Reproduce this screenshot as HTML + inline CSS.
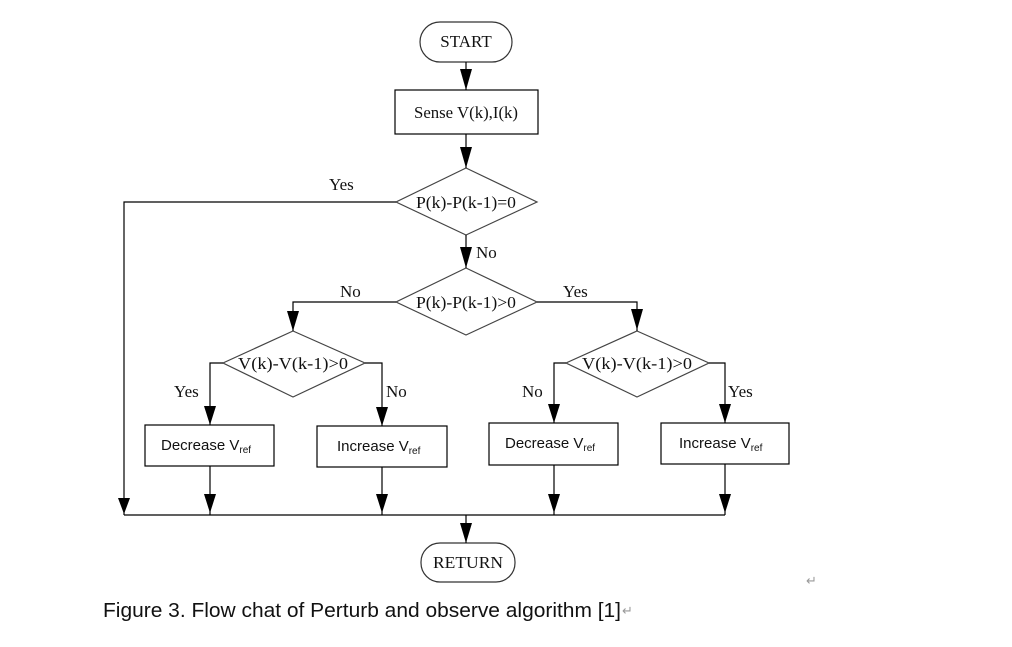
<!DOCTYPE html>
<html><head><meta charset="utf-8"><style>
body{margin:0;background:#fff;}
svg{display:block}
.s{font-family:"Liberation Serif",serif;font-size:17px;fill:#111}
.a{font-family:"Liberation Sans",sans-serif;font-size:15px;fill:#111}
</style></head><body>
<svg width="1012" height="647" viewBox="0 0 1012 647" xmlns="http://www.w3.org/2000/svg">
<g stroke="#000" stroke-width="1.2" fill="none">
<rect x="420" y="22" width="92" height="40" rx="20" fill="#fff" stroke="#333"/>
<rect x="395" y="90" width="143" height="44" fill="#fff"/>
<polygon points="466,168 537,202 466,235 396,202" stroke="#444"/>
<polygon points="466,268 537,302 466,335 396,302" stroke="#444"/>
<polygon points="293,331 365,363 293,397 223,363" stroke="#444"/>
<polygon points="637,331 709,363 637,397 566,363" stroke="#444"/>
<rect x="145" y="425" width="129" height="41"/>
<rect x="317" y="426" width="130" height="41"/>
<rect x="489" y="423" width="129" height="42"/>
<rect x="661" y="423" width="128" height="41"/>
<rect x="421" y="543" width="94" height="39" rx="19" stroke="#333"/>
<line x1="466" y1="62" x2="466" y2="90"/>
<line x1="466" y1="134" x2="466" y2="168"/>
<line x1="466" y1="235" x2="466" y2="268"/>
<polyline points="396,202 124,202 124,515"/>
<polyline points="396,302 293,302 293,331"/>
<polyline points="537,302 637,302 637,331"/>
<polyline points="223,363 210,363 210,425"/>
<polyline points="365,363 382,363 382,426"/>
<polyline points="566,363 554,363 554,423"/>
<polyline points="709,363 725,363 725,423"/>
<line x1="210" y1="466" x2="210" y2="515"/>
<line x1="382" y1="467" x2="382" y2="515"/>
<line x1="554" y1="465" x2="554" y2="515"/>
<line x1="725" y1="464" x2="725" y2="515"/>
<line x1="124" y1="515" x2="725" y2="515"/>
<line x1="466" y1="515" x2="466" y2="543"/>
</g>
<g fill="#000">
<path d="M460,69 L472,69 L466,90 Z"/>
<path d="M460,147 L472,147 L466,168 Z"/>
<path d="M460,247 L472,247 L466,268 Z"/>
<path d="M287,311 L299,311 L293,331 Z"/>
<path d="M631,309 L643,309 L637,330 Z"/>
<path d="M204,406 L216,406 L210,425 Z"/>
<path d="M376,407 L388,407 L382,426 Z"/>
<path d="M548,404 L560,404 L554,423 Z"/>
<path d="M719,404 L731,404 L725,423 Z"/>
<path d="M118,498 L130,498 L124,514 Z"/>
<path d="M204,494 L216,494 L210,513 Z"/>
<path d="M376,494 L388,494 L382,513 Z"/>
<path d="M548,494 L560,494 L554,513 Z"/>
<path d="M719,494 L731,494 L725,513 Z"/>
<path d="M460,523 L472,523 L466,543 Z"/>
</g>
<text class="s" x="466" y="47" text-anchor="middle">START</text>
<text class="s" x="466" y="118" text-anchor="middle" textLength="104" lengthAdjust="spacingAndGlyphs">Sense V(k),I(k)</text>
<text class="s" x="466" y="208" text-anchor="middle" textLength="100" lengthAdjust="spacingAndGlyphs">P(k)-P(k-1)=0</text>
<text class="s" x="466" y="308" text-anchor="middle" textLength="100" lengthAdjust="spacingAndGlyphs">P(k)-P(k-1)&gt;0</text>
<text class="s" x="293" y="369" text-anchor="middle" textLength="110" lengthAdjust="spacingAndGlyphs">V(k)-V(k-1)&gt;0</text>
<text class="s" x="637" y="369" text-anchor="middle" textLength="110" lengthAdjust="spacingAndGlyphs">V(k)-V(k-1)&gt;0</text>
<text class="s" x="329" y="190">Yes</text>
<text class="s" x="476" y="258">No</text>
<text class="s" x="340" y="297">No</text>
<text class="s" x="563" y="297">Yes</text>
<text class="s" x="174" y="397">Yes</text>
<text class="s" x="386" y="397">No</text>
<text class="s" x="522" y="397">No</text>
<text class="s" x="728" y="397">Yes</text>
<text class="a" x="161" y="450">Decrease V<tspan font-size="10" dy="3">ref</tspan></text>
<text class="a" x="337" y="451">Increase V<tspan font-size="10" dy="3">ref</tspan></text>
<text class="a" x="505" y="448">Decrease V<tspan font-size="10" dy="3">ref</tspan></text>
<text class="a" x="679" y="448">Increase V<tspan font-size="10" dy="3">ref</tspan></text>
<text class="s" x="468" y="568" text-anchor="middle" textLength="70" lengthAdjust="spacingAndGlyphs">RETURN</text>
<text x="103" y="617" font-family="Liberation Sans,sans-serif" font-size="20" fill="#111" textLength="518" lengthAdjust="spacingAndGlyphs">Figure 3. Flow chat of Perturb and observe algorithm [1]</text>
<text x="622" y="615" font-family="DejaVu Sans,sans-serif" font-size="13" fill="#999">↵</text>
<text x="806" y="585" font-family="DejaVu Sans,sans-serif" font-size="13" fill="#999">↵</text>
</svg>
</body></html>
